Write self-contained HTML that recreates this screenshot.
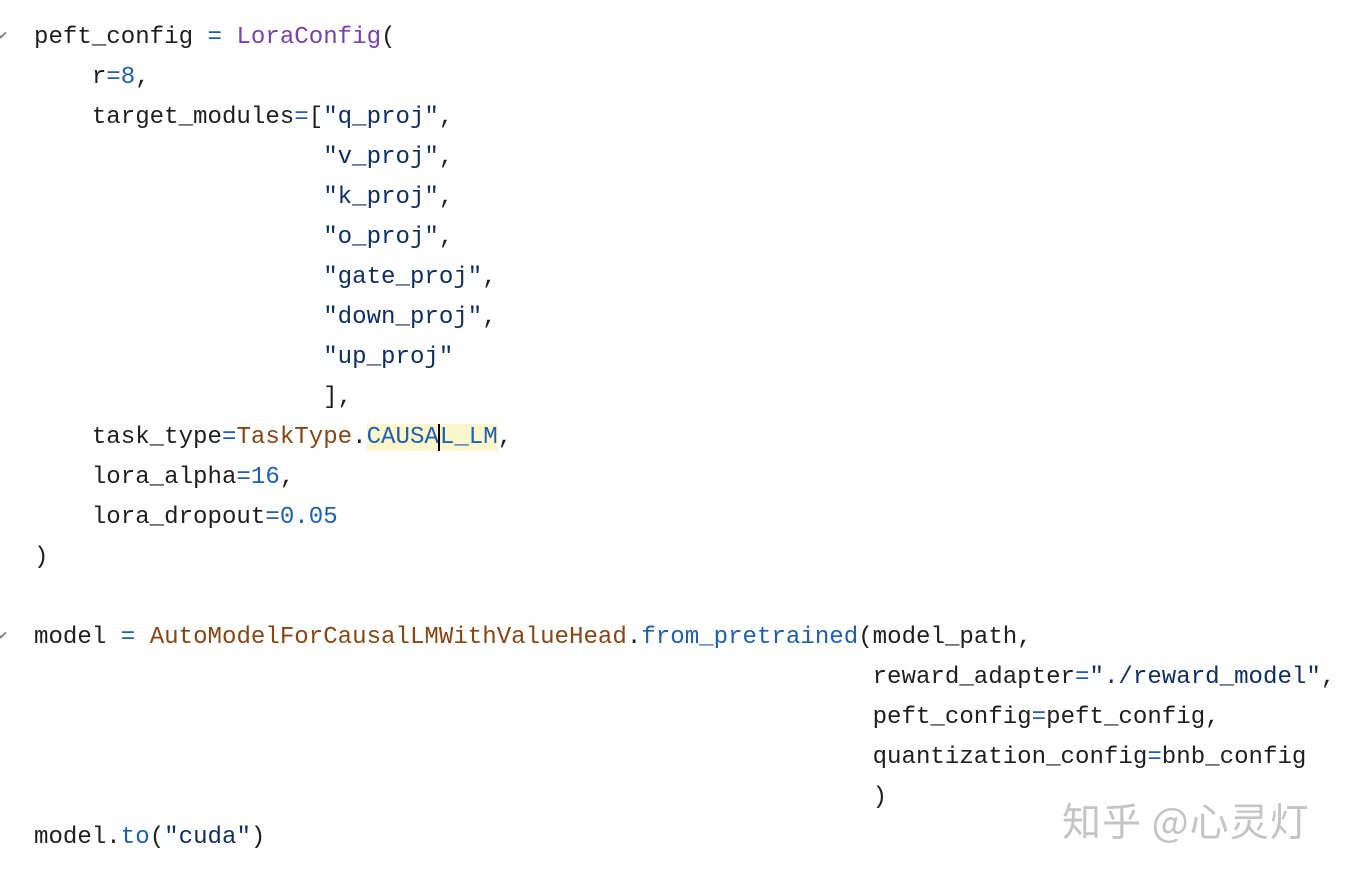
<!DOCTYPE html>
<html><head><meta charset="utf-8"><style>
html,body{margin:0;padding:0;background:#fff;width:1348px;height:874px;overflow:hidden;position:relative}
pre{margin:0;position:absolute;left:34px;top:18px;font-family:"Liberation Mono",monospace;font-size:24.1px;line-height:40px;color:#1f1f1f}
.e{color:#1d5fb4}.n{color:#1d5fb4}.s{color:#0f2f63}.c{color:#7b3fb3}.t{color:#8a4512}.f{color:#1d5fb4}
.h{background:#fbf6cc}
.cur{border-left:2px solid #000;margin-left:-1px}
.wm{position:absolute;left:1062px;top:792px;font-family:"Noto Sans CJK SC",sans-serif;font-size:39px;color:#c4c4c4;letter-spacing:1px}
.fold{position:absolute;left:0;width:6px;height:6px;border-right:2px solid #888;border-bottom:2px solid #888;transform:rotate(45deg)}
</style></head><body>
<div class="fold" style="top:29px;left:-3px"></div>
<div class="fold" style="top:629px;left:-3px"></div>
<pre>peft_config <span class="e">=</span> <span class="c">LoraConfig</span>(
    r<span class="e">=</span><span class="n">8</span>,
    target_modules<span class="e">=</span>[<span class="s">"q_proj"</span>,
                    <span class="s">"v_proj"</span>,
                    <span class="s">"k_proj"</span>,
                    <span class="s">"o_proj"</span>,
                    <span class="s">"gate_proj"</span>,
                    <span class="s">"down_proj"</span>,
                    <span class="s">"up_proj"</span>
                    ],
    task_type<span class="e">=</span><span class="t">TaskType</span>.<span class="h"><span class="f">CAUSA</span><span class="f cur">L_LM</span></span>,
    lora_alpha<span class="e">=</span><span class="n">16</span>,
    lora_dropout<span class="e">=</span><span class="n">0.05</span>
)

model <span class="e">=</span> <span class="t">AutoModelForCausalLMWithValueHead</span>.<span class="f">from_pretrained</span>(model_path,
                                                          reward_adapter<span class="e">=</span><span class="s">"./reward_model"</span>,
                                                          peft_config<span class="e">=</span>peft_config,
                                                          quantization_config<span class="e">=</span>bnb_config
                                                          )
model.<span class="f">to</span>(<span class="s">"cuda"</span>)</pre>
<div class="wm">知乎 @心灵灯</div>
</body></html>
